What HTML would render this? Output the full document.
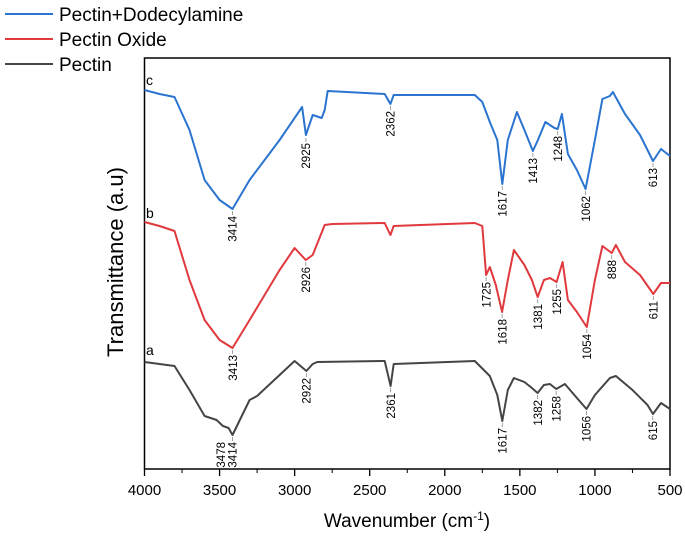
<!DOCTYPE html>
<html><head><meta charset="utf-8"><style>
body{margin:0;background:#fff;width:685px;height:538px;overflow:hidden;font-family:"Liberation Sans",sans-serif}
</style></head><body>
<svg id="c" width="685" height="538" xmlns="http://www.w3.org/2000/svg" font-family="Liberation Sans, sans-serif"></svg>
<script>
const xTicks=[4000,3500,3000,2500,2000,1500,1000,500];
const wnC=[4000,3900,3800,3700,3600,3500,3414,3300,3200,3100,2950,2925,2880,2820,2800,2780,2400,2362,2340,1800,1750,1700,1650,1617,1580,1520,1470,1413,1380,1330,1270,1248,1220,1180,1120,1062,1000,950,900,880,800,700,613,560,500];
const tC=[90,94,97,130,180,200,209,180,160,140,107,135,115,118,110,91,94,104,95,95,102,122,140,184,140,112,130,151,140,122,128,129,114,154,170,189,140,99,96,92,114,135,161,149,156];
const wnB=[4000,3900,3800,3700,3600,3500,3414,3300,3200,3100,3000,2926,2880,2800,2750,2400,2362,2340,1800,1750,1725,1700,1660,1618,1580,1540,1470,1420,1381,1340,1300,1255,1215,1180,1120,1054,1000,950,888,860,800,700,611,560,500];
const tB=[222,226,231,280,320,340,348,320,295,270,248,260,255,225,224,223,235,226,223,226,275,267,285,312,280,250,265,280,297,280,278,282,262,300,312,327,280,246,253,245,262,275,294,283,283];
const wnA=[4000,3900,3800,3700,3600,3520,3478,3440,3414,3300,3250,3100,3000,2922,2880,2850,2400,2361,2340,1800,1700,1650,1617,1580,1540,1470,1420,1382,1340,1300,1258,1200,1120,1056,1000,900,860,750,650,613,560,500];
const tA=[362,364,366,390,416,420,426,428,435,400,396,375,361,371,364,362,361,386,364,361,376,395,421,390,378,382,388,393,385,384,389,384,398,409,395,378,376,390,405,414,403,409];
const annC=[[3414,"3414",209],[2925,"2925",136],[2362,"2362",104],[1617,"1617",184],[1413,"1413",151],[1248,"1248",129],[1062,"1062",189],[613,"613",161]];
const annB=[[3413,"3413",348],[2926,"2926",260],[1725,"1725",275],[1618,"1618",312],[1381,"1381",297],[1255,"1255",282],[1054,"1054",327],[888,"888",253],[611,"611",294]];
const annA=[[3414,"3478\u00a03414",435],[2922,"2922",371],[2361,"2361",386],[1617,"1617",421],[1382,"1382",393],[1258,"1258",389],[1056,"1056",409],[615,"615",414]];
const X0=144.5,X1=670,YT=58,YB=469;
const sx=w=>X0+(4000-w)/3500*(X1-X0);
const svg=document.getElementById('c');const NS="http://www.w3.org/2000/svg";
function mk(t,a,p){const e=document.createElementNS(NS,t);for(const k in a)e.setAttribute(k,a[k]);(p||svg).appendChild(e);return e;}
const frame=mk('rect',{x:X0,y:YT,width:X1-X0,height:YB-YT,fill:'none',stroke:'#000','stroke-width':1.5});


xTicks.forEach((v,i)=>{
 const t=mk('line',{x1:sx(v),x2:sx(v),y1:YB,y2:YB+7,stroke:'#000','stroke-width':1.3});
 
 
 if(i<xTicks.length-1){const m=mk('line',{x1:sx(v-250),x2:sx(v-250),y1:YB,y2:YB+4,stroke:'#000','stroke-width':1});
 
 }
 const l=mk('text',{x:sx(v),y:YB+26,'font-size':15,'text-anchor':'middle',fill:'#000'});l.textContent=v;
 
 
});
const xt=mk('text',{x:407,y:527,'font-size':19,'text-anchor':'middle'});
xt.innerHTML='Wavenumber (cm<tspan dy="-7" font-size="12">-1</tspan><tspan dy="7">)</tspan>';


const yt=mk('text',{x:0,y:0,'font-size':22,'text-anchor':'middle',transform:'translate(123,262) rotate(-90)'});yt.textContent='Transmittance (a.u)';


function series(wn,t,col,name){
 const d=wn.map((w,i)=>(i?'L':'M')+sx(w).toFixed(1)+','+t[i]).join('');
 const p=mk('path',{d:d,fill:'none',stroke:col,'stroke-width':2,'stroke-linejoin':'round'});
 
 
}
series(wnC,tC,'#2a74d0','series-pectin-dodecylamine');
series(wnB,tB,'#e0393e','series-pectin-oxide');
series(wnA,tA,'#454545','series-pectin');
function ann(list){list.forEach(a=>{
 const x=sx(a[0]),y=a[2];
 const ln=mk('line',{x1:x,x2:x,y1:y+2,y2:y+6,stroke:'#888','stroke-width':0.8});
 
 
 const parts=a[1].split('\u00a0');
 parts.forEach((s,j)=>{
  const tx=mk('text',{x:0,y:0,'font-size':11.5,'text-anchor':'end',transform:`translate(${x+4.2+(j-(parts.length-1))*11.5},${y+7}) rotate(-90)`});
  tx.textContent=s;
  
  
 });
});}
ann(annC);ann(annB);ann(annA);
[['c',146,85],['b',146,218],['a',146,355]].forEach(s=>{const t=mk('text',{x:s[1],y:s[2],'font-size':14});t.textContent=s[0];
 
 });
[['Pectin+Dodecylamine','#2a74d0',14],['Pectin Oxide','#e0393e',39],['Pectin','#454545',64]].forEach(l=>{
 const g=mk('g',{});
 
 
 mk('line',{x1:5,x2:53,y1:l[2],y2:l[2],stroke:l[1],'stroke-width':2},g);
 const t=mk('text',{x:59,y:l[2]+7,'font-size':19},g);t.textContent=l[0];
});
</script>
</body></html>
